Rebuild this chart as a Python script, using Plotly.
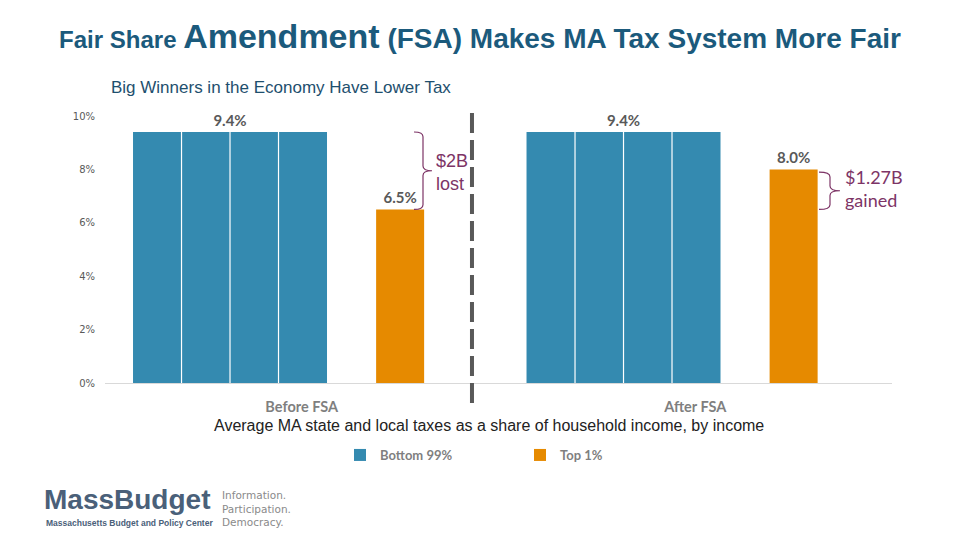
import plotly.graph_objects as go

# ---- data ----
categories = ["Before FSA", "After FSA"]
bottom99 = [9.4, 9.4]
top1 = [6.5, 8.0]
series_names = ["Bottom 99%", "Top 1%"]
y_ticks = [0, 2, 4, 6, 8, 10]
y_tick_labels = ["0%", "2%", "4%", "6%", "8%", "10%"]

# ---- styles ----
BLUE = "#348AB0"
ORANGE = "#E68A00"
PURPLE = "#7D3466"
GRAY = "#595959"
TEAL = "#1B5A7C"

blue_offset, blue_width = -0.4288, 0.493
orange_offset, orange_width = 0.189, 0.122

fig = go.Figure()
fig.add_trace(go.Bar(
    x=categories, y=bottom99, name=series_names[0],
    marker=dict(color=BLUE, line=dict(width=0)),
    offset=blue_offset, width=blue_width,
    text=[f"{v:.1f}%" for v in bottom99], textposition="outside",
    textfont=dict(family="Lato", size=15, color=GRAY, weight="bold"),
    cliponaxis=False,
))
fig.add_trace(go.Bar(
    x=categories, y=top1, name=series_names[1],
    marker=dict(color=ORANGE, line=dict(width=0)),
    offset=orange_offset, width=orange_width,
    text=[f"{v:.1f}%" for v in top1], textposition="outside",
    textfont=dict(family="Lato", size=15, color=GRAY, weight="bold"),
    cliponaxis=False,
))

shapes = []
# white dividers inside the wide blue bars
for i, v in enumerate(bottom99):
    for k in (1, 2, 3):
        xx = i + blue_offset + blue_width * k / 4
        shapes.append(dict(type="line", xref="x", yref="y", x0=xx, x1=xx, y0=0, y1=v,
                           line=dict(color="white", width=1.2)))

# dashed separator
shapes.append(dict(type="line", xref="paper", yref="paper", x0=0.4663, x1=0.4663,
                   y0=1.011, y1=-0.094, line=dict(color=GRAY, width=4, dash="20px,7px")))


def brace(x0, x1, x2, ytop, ybot, d=0.18):
    ym = (ytop + ybot) / 2
    return (f"M {x0},{ytop} Q {x1},{ytop} {x1},{ytop - d} L {x1},{ym + d} "
            f"Q {x1},{ym} {x2},{ym} Q {x1},{ym} {x1},{ym - d} L {x1},{ybot + d} "
            f"Q {x1},{ybot} {x0},{ybot}")


def px2paper(px):
    return (px - 105) / 787


def py2paper(py):
    return (383 - py) / 267

shapes.append(dict(type="path", xref="paper", yref="y",
                   path=brace(px2paper(414), px2paper(423), px2paper(432), bottom99[0], top1[0]),
                   line=dict(color=PURPLE, width=1.2)))
shapes.append(dict(type="path", xref="paper", yref="y",
                   path=brace(px2paper(819), px2paper(830), px2paper(840), top1[1] - 0.1, top1[0]),
                   line=dict(color=PURPLE, width=1.2)))

annotations = [
    dict(text="Big Winners in the Economy Have Lower Tax", xref="paper", yref="paper",
         x=px2paper(109), y=py2paper(88), xanchor="left", yanchor="middle", showarrow=False,
         font=dict(family="Liberation Sans", size=17, color="#1E4F6E")),
    dict(text="$2B<br>lost", xref="paper", yref="paper", x=px2paper(434), y=py2paper(172),
         xanchor="left", yanchor="middle", align="left", showarrow=False,
         font=dict(family="Liberation Sans", size=18, color=PURPLE)),
    dict(text="$1.27B<br>gained", xref="paper", yref="paper", x=px2paper(843), y=py2paper(188),
         xanchor="left", yanchor="middle", align="left", showarrow=False,
         font=dict(family="Lato", size=18, color=PURPLE)),
    dict(text="Average MA state and local taxes as a share of household income, by income",
         xref="paper", yref="paper", x=px2paper(489), y=py2paper(425),
         xanchor="center", yanchor="middle", showarrow=False,
         font=dict(family="Liberation Sans", size=16, color="#222222")),
    dict(text="<b>MassBudget</b>", xref="paper", yref="paper", x=px2paper(42), y=py2paper(499),
         xanchor="left", yanchor="middle", showarrow=False,
         font=dict(family="Liberation Sans", size=28, color="#4A6079")),
    dict(text="<b>Massachusetts Budget and Policy Center</b>", xref="paper", yref="paper",
         x=px2paper(44), y=py2paper(523), xanchor="left", yanchor="middle", showarrow=False,
         font=dict(family="Liberation Sans", size=8.5, color="#4A6079")),
    dict(text="Information.<br>Participation.<br>Democracy.", xref="paper", yref="paper",
         x=px2paper(220), y=py2paper(508), xanchor="left", yanchor="middle", align="left",
         showarrow=False, font=dict(family="DejaVu Sans", size=10.5, color="#8A8A8A")),
]

fig.update_layout(
    width=960, height=540,
    margin=dict(l=105, r=68, t=116, b=157),
    paper_bgcolor="white", plot_bgcolor="white",
    barmode="overlay",
    title=dict(
        text="<span style='font-size:24px'>Fair Share </span><span style='font-size:34px'>Amendment</span> (FSA) Makes MA Tax System More Fair",
        x=0.5, xanchor="center", xref="container", y=1 - 38 / 540, yanchor="middle", yref="container",
        font=dict(family="Liberation Sans", size=28, color=TEAL, weight="bold"),
    ),
    xaxis=dict(
        type="category", range=[-0.5, 1.5], showgrid=False,
        showline=True, linecolor="#D9D9D9", linewidth=1,
        tickfont=dict(family="Lato", size=14.5, color="#7F7F7F", weight="bold"),
        ticklabelstandoff=11,
    ),
    yaxis=dict(
        range=[0, 10], tickvals=y_ticks, ticktext=y_tick_labels, showgrid=False,
        zeroline=False, showline=False,
        tickfont=dict(family="DejaVu Sans", size=10, color=GRAY),
        ticklabelstandoff=9,
    ),
    legend=dict(
        orientation="h", x=px2paper(340), y=py2paper(455), xanchor="left", yanchor="middle",
        font=dict(family="Lato", size=13, color="#7F7F7F", weight="bold"),
        entrywidth=135, entrywidthmode="pixels", traceorder="normal",
    ),
    shapes=shapes,
    annotations=annotations,
    showlegend=True,
)

fig.write_html("out.html")
